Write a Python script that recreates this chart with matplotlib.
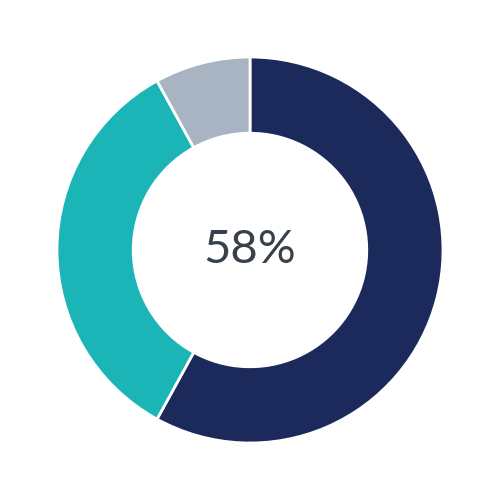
import matplotlib
matplotlib.use("Agg")
import matplotlib.pyplot as plt

labels = ["A", "B", "C"]
values = [58, 34, 8]
colors = ["#1b2a5a", "#1bb5b8", "#a9b4c2"]
center_text = "58%"

fig = plt.figure(figsize=(5, 5), dpi=100)
ax = fig.add_axes([0, 0, 1, 1])
ax.pie(values, colors=colors, startangle=90, counterclock=False,
       radius=1.0, wedgeprops=dict(width=0.395, edgecolor="white", linewidth=2))
ax.text(0, -13 / 193, center_text, ha="center", va="baseline", fontsize=34,
        color="#38414b", family="Lato")
lim = 250 / 193
ax.set_xlim(-lim, lim)
ax.set_ylim(-lim, lim)
ax.set_aspect("equal")
ax.axis("off")
fig.savefig("out.png", dpi=100, facecolor="white")
